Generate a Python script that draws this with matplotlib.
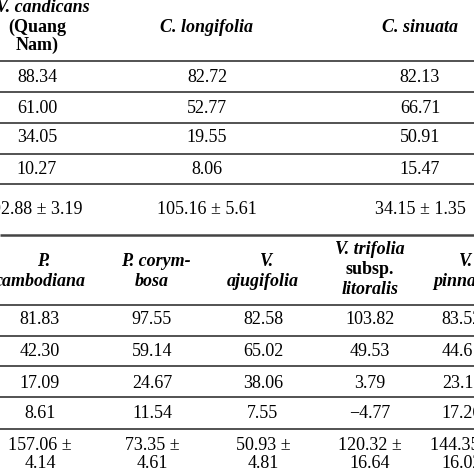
import matplotlib
matplotlib.use("Agg")
import matplotlib.pyplot as plt

# top table
top_cols = ["V. candicans\n(Quang\nNam)", "C. longifolia", "C. sinuata"]
top_vals = [["88.34", "82.72", "82.13"],
            ["61.00", "52.77", "66.71"],
            ["34.05", "19.55", "50.91"],
            ["10.27", "8.06", "15.47"],
            ["92.88 \u00b1 3.19", "105.16 \u00b1 5.61", "34.15 \u00b1 1.35"]]
# bottom table
bot_cols = ["P.\ncambodiana", "P. corym-\nbosa", "V.\najugifolia", "V. trifolia\nsubsp.\nlitoralis", "V.\npinnata"]
bot_vals = [["81.83", "97.55", "82.58", "103.82", "83.52"],
            ["42.30", "59.14", "65.02", "49.53", "44.61"],
            ["17.09", "24.67", "38.06", "3.79", "23.18"],
            ["8.61", "11.54", "7.55", "\u22124.77", "17.26"],
            ["157.06 \u00b1\n4.14", "73.35 \u00b1\n4.61", "50.93 \u00b1\n4.81", "120.32 \u00b1\n16.64", "144.35 \u00b1\n16.02"]]

fig = plt.figure(figsize=(4.74, 4.74), dpi=100)
ax = fig.add_axes([0, 0, 1, 1])
ax.set_xlim(0, 474); ax.set_ylim(474, 0); ax.axis("off")
FF = "Liberation Serif"
FS = 13
lc = "#444444"

def hline(y, lw=1.3):
    ax.plot([0, 474], [y, y], color=lc, lw=lw, solid_capstyle="butt")

def t(x, y, s, **kw):
    ax.text(x, y, s, ha="center", va="center", family=FF, size=FS, **kw)

# top table
tx = [37, 207, 420]
t(tx[0] + 6, 7, "V. candicans", style="italic", weight="bold")
t(tx[0], 27, "(Quang", weight="bold")
t(tx[0], 45, "Nam)", weight="bold")
for x, c in zip(tx[1:], top_cols[1:]):
    t(x, 27, c, style="italic", weight="bold")
for y in [61, 92, 123, 154, 184]:
    hline(y)
hline(235, 1.8)
ty = [77, 108, 138, 169, 210]
for y, row in zip(ty, top_vals):
    for x, v in zip(tx, row):
        t(x, y, v)

# bottom table
bx = [40, 152, 263, 370, 462]
for x, c in zip(bx, bot_cols):
    if "subsp." in c:
        t(x, 250, "V. trifolia", style="italic", weight="bold")
        t(x, 269, "subsp.", weight="bold")
        t(x, 290, "litoralis", style="italic", weight="bold")
    else:
        l1, l2 = c.split("\n")
        t(x + 4, 262, l1, style="italic", weight="bold")
        t(x, 282, l2, style="italic", weight="bold")
for y in [305, 336, 366, 397, 429]:
    hline(y)
by = [320, 352, 383, 413]
for y, row in zip(by, bot_vals[:4]):
    for x, v in zip(bx, row):
        t(x, y, v)
for x, v in zip(bx, bot_vals[4]):
    a, b = v.split("\n")
    t(x, 445, a)
    t(x, 464, b)

fig.savefig("out.png", dpi=100, facecolor="white")
